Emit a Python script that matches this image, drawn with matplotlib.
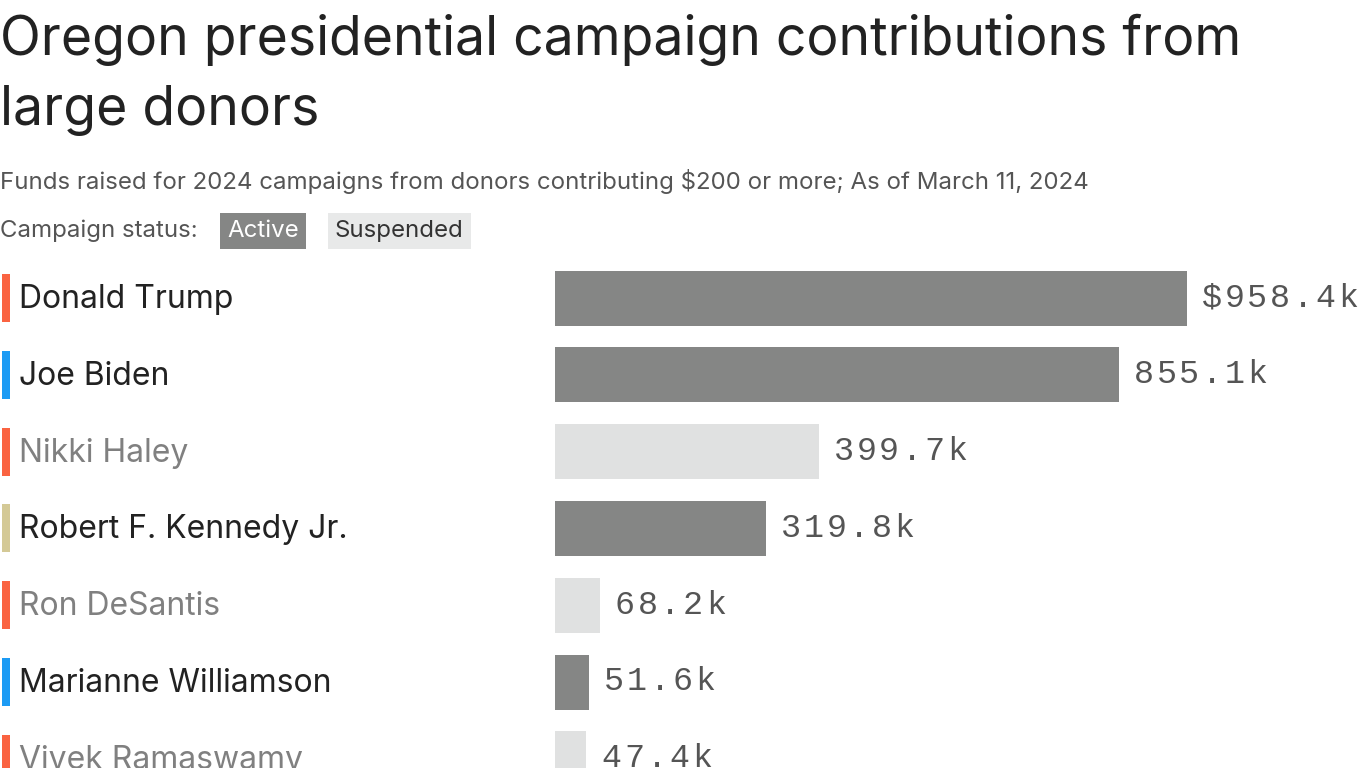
import matplotlib.pyplot as plt

# data
names = ["Donald Trump", "Joe Biden", "Nikki Haley", "Robert F. Kennedy Jr.",
         "Ron DeSantis", "Marianne Williamson", "Vivek Ramaswamy"]
amounts = [958.4, 855.1, 399.7, 319.8, 68.2, 51.6, 47.4]
status = ["Active", "Active", "Suspended", "Active", "Suspended", "Active", "Suspended"]
party = ["R", "D", "R", "I", "R", "D", "R"]
value_labels = ["$958.4k", "855.1k", "399.7k", "319.8k", "68.2k", "51.6k", "47.4k"]

bar_col = {"Active": "#858685", "Suspended": "#e0e1e1"}
name_col = {"Active": "#222222", "Suspended": "#808080"}
party_col = {"R": "#fa6341", "D": "#1c9bf4", "I": "#d4c996"}

W, H = 1366, 768
fig = plt.figure(figsize=(W / 100, H / 100), dpi=100)
fig.patch.set_facecolor("white")
font = "Inter"

def fx(px):
    return px / W

def fy(py):
    return 1 - py / H

# title, subtitle, legend
fig.text(fx(0), fy(55), "Oregon presidential campaign contributions from",
         fontsize=38.5, family=font, color="#222222", va="baseline")
fig.text(fx(0), fy(125), "large donors",
         fontsize=38.5, family=font, color="#222222", va="baseline")
fig.text(fx(0), fy(189), "Funds raised for 2024 campaigns from donors contributing $200 or more; As of March 11, 2024",
         fontsize=17.3, family=font, color="#555555", va="baseline")
fig.text(fx(0), fy(237), "Campaign status:", fontsize=17.3, family=font,
         color="#555555", va="baseline")
fig.text(fx(227), fy(237), "Active", fontsize=17.3, family=font, color="white",
         va="baseline",
         bbox=dict(boxstyle="square,pad=0.3", fc=bar_col["Active"], ec="none"))
fig.text(fx(335), fy(237), "Suspended", fontsize=17.3, family=font, color="#333333",
         va="baseline",
         bbox=dict(boxstyle="square,pad=0.3", fc="#e8e9e9", ec="none"))

# bars
row = 76.8
top_px, x0_px = 260, 555
scale = 632 / 958.4  # px per thousand
ytop = -(298 - top_px) / row
ybot = (H - 298) / row
ax = fig.add_axes([fx(x0_px), 0, fx(W - x0_px), fy(top_px)])
ax.set_xlim(0, (W - x0_px) / scale)
ax.set_ylim(ybot, ytop)
ax.axis("off")
ypos = list(range(len(names)))
ax.barh(ypos, amounts, height=55 / row, color=[bar_col[s] for s in status])

for i, (v, lab) in enumerate(zip(amounts, value_labels)):
    for j, ch in enumerate(lab):
        ax.annotate(ch, (v, i), xytext=(15 * 0.72 + j * 22.7 * 0.72, 0),
                    textcoords="offset points", fontsize=24,
                    family="Liberation Mono", color="#555555",
                    va="center", ha="left", annotation_clip=False)

# name labels with party markers
axl = fig.add_axes([0, 0, fx(x0_px), fy(top_px)])
axl.set_xlim(0, x0_px)
axl.set_ylim(ybot, ytop)
axl.axis("off")
axl.barh(ypos, [8] * len(names), left=2, height=48 / row,
         color=[party_col[p] for p in party])
for i, (n, s) in enumerate(zip(names, status)):
    axl.text(19, i + 0.02, n, fontsize=23, family=font, color=name_col[s],
             va="center", ha="left")

fig.savefig("out.png", dpi=100)
